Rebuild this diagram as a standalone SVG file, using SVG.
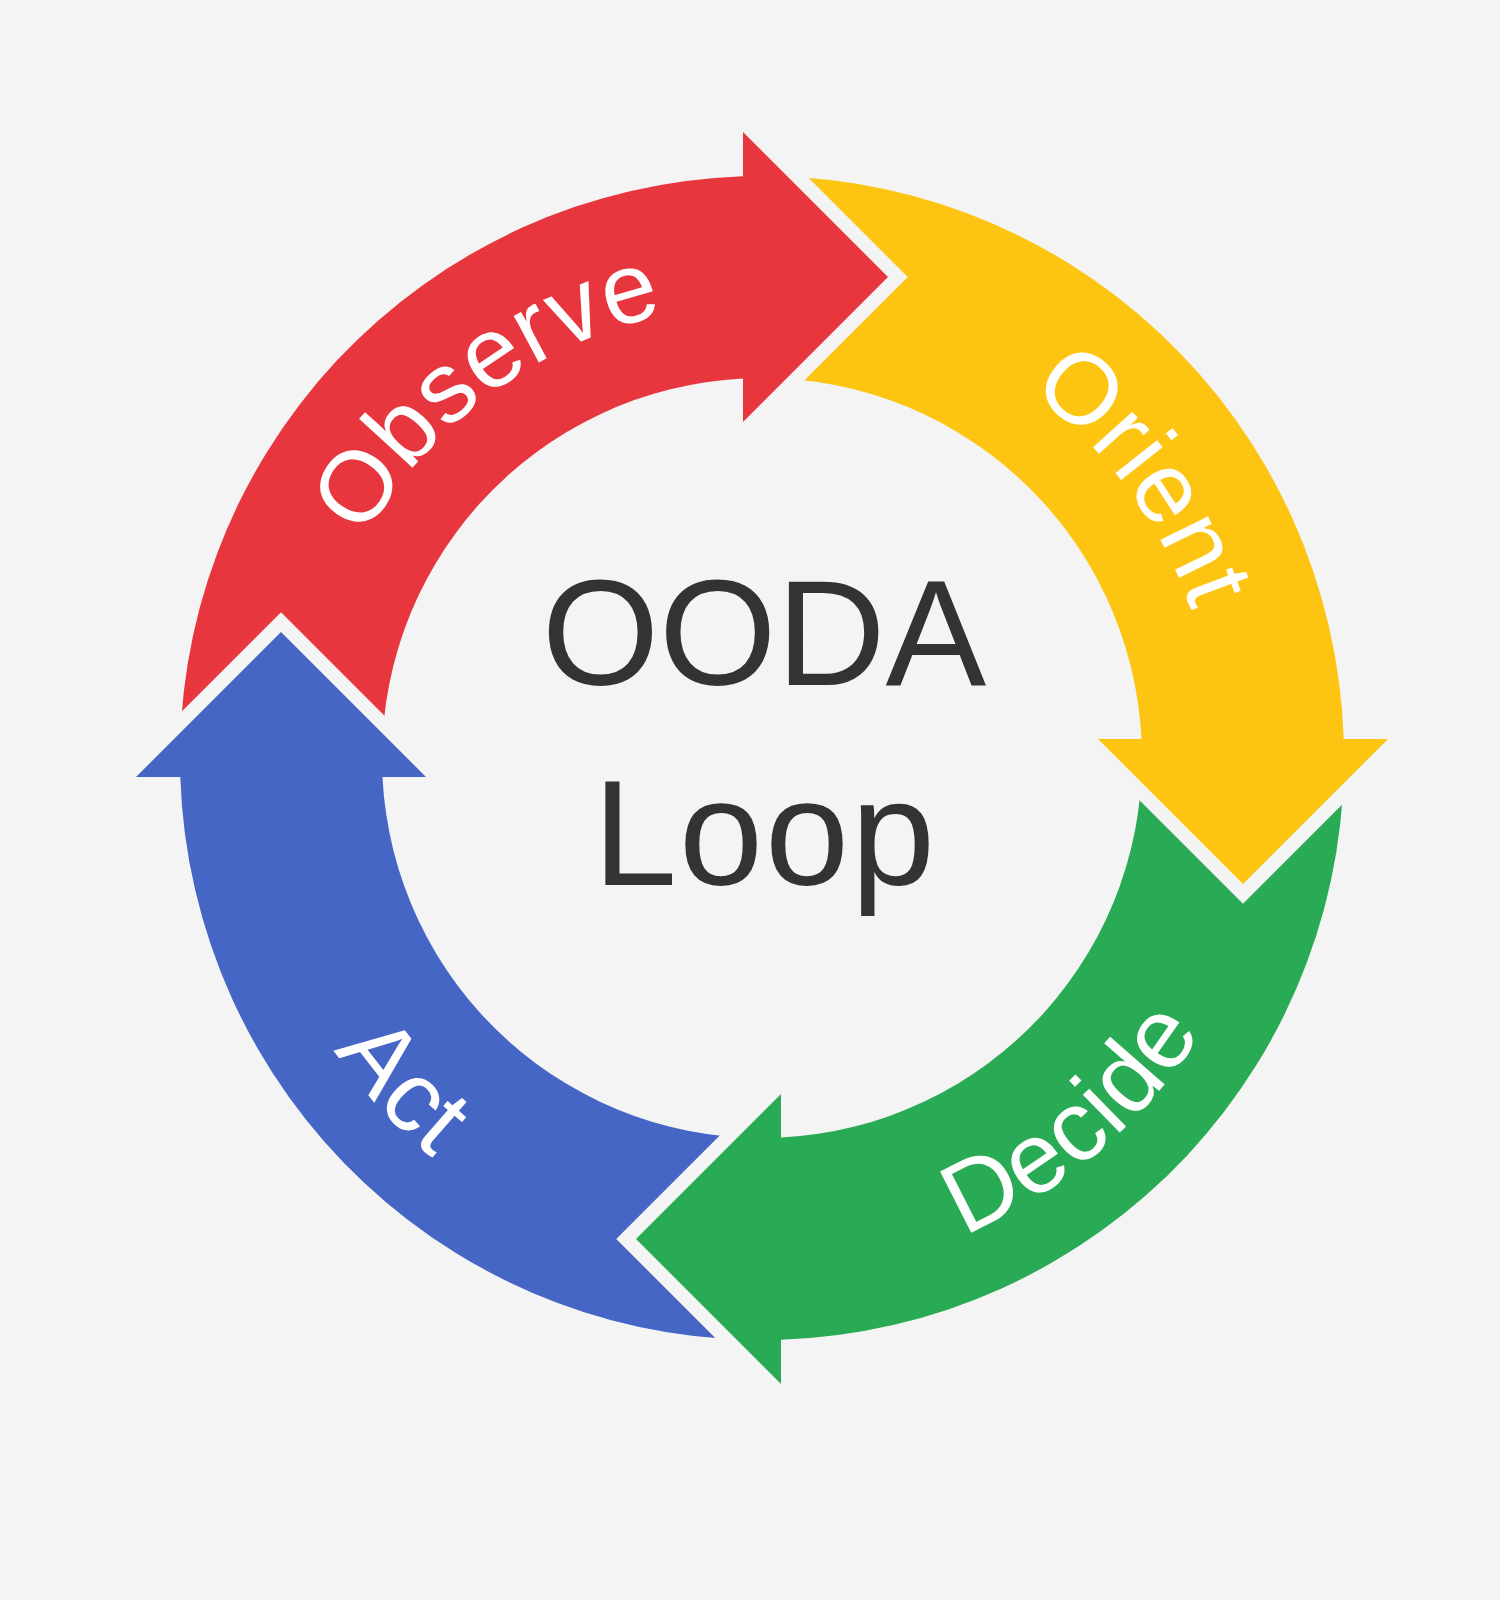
<svg xmlns="http://www.w3.org/2000/svg" width="1500" height="1600" viewBox="0 0 1500 1600">
  <style>
    .gap { fill: none; stroke: #f4f4f4; stroke-width: 28; stroke-linejoin: miter; stroke-miterlimit: 4; }
    .lbl { font-family: "Liberation Sans", Arial, sans-serif; font-size: 100px; fill: #ffffff; letter-spacing: 1.2px; }
    .title { font-family: "Liberation Sans", Arial, sans-serif; font-size: 151px; fill: #333333; }
    .red { fill: #e8363f; }
    .yellow { fill: #fdc512; }
    .green { fill: #29ab55; }
    .blue { fill: #4566c4; }
  </style>
  <defs>
    <path id="pObserve" d="M 311.1,811.0 A 454 454 0 0 1 941.6,341.0"/>
    <path id="pOrient" d="M 711.4,306.8 A 454 454 0 0 1 1178.0,939.8"/>
    <path id="pDecide" d="M 589.1,1246.3 A 518 518 0 0 0 1271.3,663.6"/>
    <path id="pAct" d="M 268.0,602.2 A 518 518 0 0 0 874.1,1263.7"/>
  </defs>
  <rect x="0" y="0" width="1500" height="1600" fill="#f4f4f4"/>

  <g id="connectors">
    <!-- arrow bodies -->
    <path class="red" d="M 180.31,777 A 582 582 0 0 1 743,176.31 L 743,378.48 A 380 380 0 0 0 382.48,777 Z"/>
    <path class="yellow" d="M 743,176.31 A 582 582 0 0 1 1343.69,739 L 1141.52,739 A 380 380 0 0 0 743,378.48 Z"/>
    <path class="green" d="M 1343.69,739 A 582 582 0 0 1 781,1339.69 L 781,1137.52 A 380 380 0 0 0 1141.52,739 Z"/>
    <path class="blue" d="M 781,1339.69 A 582 582 0 0 1 180.31,777 L 382.48,777 A 380 380 0 0 0 781,1137.52 Z"/>
    <!-- arrow heads -->
    <polyline class="gap" points="743,132 888,277 743,422"/>
    <polygon class="red" points="743,132 888,277 743,422"/>
    <polyline class="gap" points="1388,739 1243,884 1098,739"/>
    <polygon class="yellow" points="1388,739 1243,884 1098,739"/>
    <polyline class="gap" points="781,1384 636,1239 781,1094"/>
    <polygon class="green" points="781,1384 636,1239 781,1094"/>
    <polyline class="gap" points="136,777 281,632 426,777"/>
    <polygon class="blue" points="136,777 281,632 426,777"/>
  </g>

  <g id="observe">
    <text class="lbl" text-anchor="middle"><textPath href="#pObserve" startOffset="50%">Observe</textPath></text>
  </g>
  <g id="orient">
    <text class="lbl" text-anchor="middle"><textPath href="#pOrient" startOffset="50%">Orient</textPath></text>
  </g>
  <g id="decide">
    <text class="lbl" text-anchor="middle"><textPath href="#pDecide" startOffset="50%">Decide</textPath></text>
  </g>
  <g id="act">
    <text class="lbl" text-anchor="middle"><textPath href="#pAct" startOffset="50%">Act</textPath></text>
  </g>

  <g id="center-title">
    <text class="title" x="764" y="685" text-anchor="middle">OODA</text>
    <text class="title" x="765" y="885" text-anchor="middle" letter-spacing="2">Loop</text>
  </g>
</svg>
